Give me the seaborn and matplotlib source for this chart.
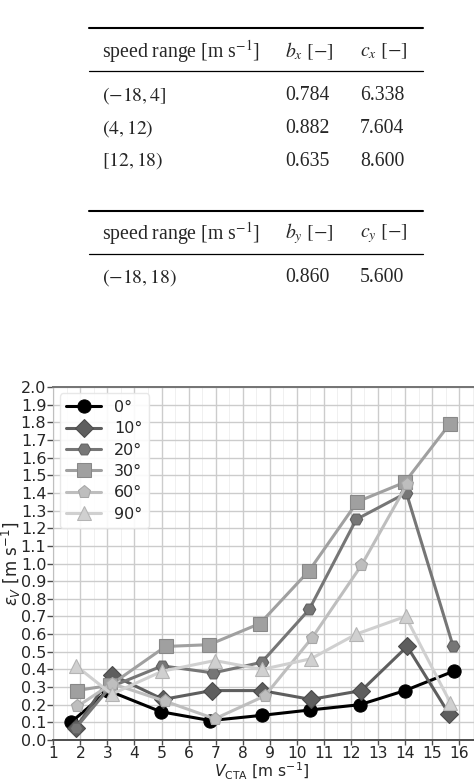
import matplotlib
matplotlib.use('Agg')
import matplotlib.pyplot as plt
from matplotlib.lines import Line2D
from matplotlib.ticker import MultipleLocator, FormatStrFormatter
import seaborn as sns
import pandas as pd

# table values
ranges_x = [r'$(-18,4]$', r'$(4,12)$', r'$[12,18)$']
b_x = ['0.784', '0.882', '0.635']
c_x = ['6.338', '7.604', '8.600']
ranges_y = [r'$(-18,18)$']
b_y = ['0.860']
c_y = ['5.600']

# chart values
angles = ['0°', '10°', '20°', '30°', '60°', '90°']
v_0 = [1.65, 3.03, 4.98, 6.81, 8.73, 10.48, 12.33, 14.0, 15.8]
err_0 = [0.10, 0.28, 0.16, 0.11, 0.14, 0.17, 0.20, 0.28, 0.39]
v_10 = [1.84, 3.16, 5.06, 6.85, 8.70, 10.52, 12.39, 14.08, 15.62]
err_10 = [0.07, 0.37, 0.23, 0.28, 0.28, 0.23, 0.28, 0.53, 0.15]
v_20 = [1.84, 3.10, 5.03, 6.91, 8.70, 10.46, 12.20, 14.05, 15.78]
err_20 = [0.07, 0.30, 0.42, 0.38, 0.44, 0.74, 1.25, 1.40, 0.53]
v_30 = [1.86, 3.10, 5.15, 6.76, 8.64, 10.46, 12.24, 13.99, 15.65]
err_30 = [0.28, 0.31, 0.53, 0.54, 0.66, 0.96, 1.35, 1.46, 1.79]
v_60 = [1.89, 3.16, 5.13, 6.97, 8.82, 10.57, 12.39, 14.08]
err_60 = [0.19, 0.32, 0.22, 0.12, 0.25, 0.58, 0.99, 1.45]
v_90 = [1.84, 3.16, 5.03, 6.97, 8.72, 10.52, 12.20, 14.02, 15.68]
err_90 = [0.42, 0.26, 0.39, 0.45, 0.40, 0.46, 0.60, 0.70, 0.21]

series_v = [v_0, v_10, v_20, v_30, v_60, v_90]
series_err = [err_0, err_10, err_20, err_30, err_60, err_90]

grays = ['#000000', '#5e5e5e', '#767676', '#a0a0a0', '#bebebe', '#d0d0d0']
edges = ['#000000', '#4a4a4a', '#606060', '#888888', '#a6a6a6', '#b4b4b4']
markers = ['o', 'D', 'H', 's', 'p', '^']
msizes = [9.5, 9, 9, 9.5, 9.5, 9.5]

rows = []
for a, vs, es in zip(angles, series_v, series_err):
    for v, e in zip(vs, es):
        rows.append({'angle': a, 'v': v, 'err': e})
df = pd.DataFrame(rows)

sns.set_style('whitegrid', {'xtick.bottom': True, 'ytick.left': True,
                            'axes.edgecolor': '0.45', 'grid.color': '0.8'})
plt.rcParams['mathtext.fontset'] = 'dejavusans'

W, H = 474, 781
fig = plt.figure(figsize=(W / 100, H / 100), dpi=100)

# ---- table (LaTeX-like, Times) ----
serif = 'Liberation Serif'
tfs = 14.2


def fy(py):
    return 1 - py / H


def rule(py, lw):
    fig.add_artist(Line2D([89 / W, 423 / W], [fy(py), fy(py)], color='black',
                          lw=lw, transform=fig.transFigure))


def trow(py, cells):
    for px, s in zip([102, 285, 360], cells):
        fig.text(px / W, fy(py), s, family=serif, fontsize=tfs, va='center',
                 ha='left', math_fontfamily='stix')


rule(27.5, 1.5)
trow(52, [r'speed range [m s$^{-1}$]', r'$b_x$ $[-]$', r'$c_x$ $[-]$'])
rule(71, 0.9)
for i in range(3):
    trow(96 + i * 32.5, [ranges_x[i], b_x[i], c_x[i]])

rule(210.5, 1.5)
trow(234, [r'speed range [m s$^{-1}$]', r'$b_y$ $[-]$', r'$c_y$ $[-]$'])
rule(254, 0.9)
trow(278, [ranges_y[0], b_y[0], c_y[0]])

# ---- chart ----
ax = fig.add_axes([53.3 / W, 1 - 740 / H, 1 - 53.3 / W, (740 - 387) / H])
sns.lineplot(data=df, x='v', y='err', hue='angle', style='angle',
             hue_order=angles, style_order=angles, palette=grays,
             markers=dict(zip(angles, markers)), dashes=False, sort=True,
             lw=2.2, ax=ax)
for ln, ec, ms in zip(ax.lines[:6], edges, msizes):
    ln.set_markeredgecolor(ec)
    ln.set_markeredgewidth(0.8)
    ln.set_markersize(ms)
    ln.set_zorder(3)

ax.set_xlim(1, 16.55)
ax.set_ylim(0, 2.0)
ax.xaxis.set_major_locator(MultipleLocator(1))
ax.yaxis.set_major_locator(MultipleLocator(0.1))
ax.xaxis.set_minor_locator(MultipleLocator(0.5))
ax.yaxis.set_major_formatter(FormatStrFormatter('%.1f'))
ax.grid(which='major', color='0.8', lw=1.0)
ax.grid(which='minor', axis='x', color='0.94', lw=0.7)
ax.tick_params(which='major', labelsize=11.5, length=4, width=1, color='0.3', pad=1)
ax.tick_params(axis='x', which='major', labelsize=11.2, length=3.5, pad=0.5)
ax.tick_params(which='minor', length=0)
ax.spines['right'].set_visible(False)
ax.spines['left'].set_color('0.75')
ax.spines['bottom'].set_color('0.3')
ax.spines['top'].set_color('0.45')
for s in ['top', 'bottom']:
    ax.spines[s].set_linewidth(1.4)

ax.set_xlabel(r'$V_\mathrm{CTA}$ [m s$^{-1}$]', fontsize=11.2)
ax.set_ylabel(r'$\varepsilon_V$ [m s$^{-1}$]', fontsize=12)
ax.xaxis.set_label_coords(0.495, -0.06, transform=ax.transAxes)
ax.yaxis.set_label_coords(-0.073, 0.5, transform=ax.transAxes)

handles, labels = ax.get_legend_handles_labels()
leg = ax.legend(handles, labels, loc='upper left', fontsize=11.5,
                handlelength=2.2, labelspacing=0.4, borderaxespad=0.4,
                frameon=True, edgecolor='0.9', framealpha=0.9)
for h, ec, ms in zip(leg.legend_handles, edges, msizes):
    h.set_markeredgecolor(ec)
    h.set_markersize(ms)
    h.set_linewidth(2.2)

fig.savefig('out.png', dpi=100)
